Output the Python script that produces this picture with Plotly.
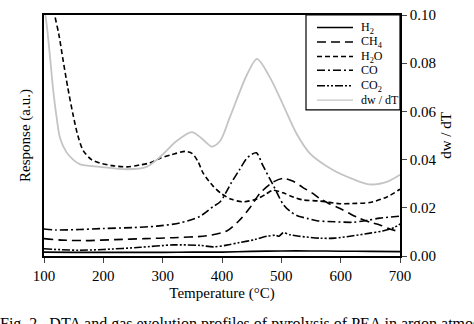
import plotly.graph_objects as go

# ---- data ----
T_h2 = [100, 150, 200, 250, 300, 350, 400, 450, 500, 550, 600, 650, 700]
h2 = [0.0016, 0.0015, 0.0015, 0.0015, 0.0015, 0.0016, 0.0016, 0.0019, 0.0021, 0.0021, 0.0020, 0.0019, 0.0018]

T_ch4 = [100, 130, 170, 220, 270, 318, 374, 408, 430, 447, 464, 485, 503, 520, 536, 553, 565,
         580, 599, 616, 633, 650, 666, 683, 700]
ch4 = [0.0072, 0.0066, 0.0064, 0.0068, 0.0072, 0.0076, 0.0084, 0.0104, 0.0150, 0.0200, 0.0260,
       0.0305, 0.0322, 0.0310, 0.0285, 0.0260, 0.0238, 0.0218, 0.0197, 0.0175, 0.0155, 0.0140,
       0.0129, 0.0112, 0.0100]

T_h2o = [100, 110, 118, 125, 132, 140, 149, 157, 166, 180, 194, 215, 240, 262, 278, 295, 315,
         338, 350, 360, 368, 385, 400, 416, 435, 459, 473, 486, 503, 520, 536, 565, 599, 620,
         649, 678, 700]
h2o = [0.125, 0.112, 0.100, 0.092, 0.0815, 0.070, 0.0586, 0.050, 0.0438, 0.040, 0.0386, 0.0375,
       0.0370, 0.0378, 0.0386, 0.0405, 0.0420, 0.0434, 0.0425, 0.0390, 0.0345, 0.0290, 0.0257,
       0.0235, 0.0225, 0.0237, 0.0255, 0.0273, 0.0262, 0.0245, 0.0233, 0.0228, 0.0217, 0.0218,
       0.0222, 0.0245, 0.0277]

T_co = [100, 120, 160, 200, 250, 290, 329, 363, 385, 397, 416, 430, 442, 450, 458, 469, 486,
        503, 515, 526, 545, 560, 590, 621, 645, 666, 700]
co = [0.0112, 0.0108, 0.0110, 0.0114, 0.0118, 0.0124, 0.0137, 0.0165, 0.0205, 0.0225, 0.0305,
      0.0360, 0.0406, 0.0422, 0.0428, 0.0375, 0.0295, 0.0215, 0.0185, 0.0168, 0.0155, 0.0146,
      0.0142, 0.0140, 0.0148, 0.0157, 0.0165]

T_co2 = [100, 130, 160, 200, 262, 318, 363, 385, 408, 430, 455, 476, 490, 496, 503, 515, 530,
         565, 590, 621, 650, 671, 690, 700]
co2 = [0.0030, 0.0026, 0.0024, 0.0027, 0.0036, 0.0046, 0.0044, 0.0038, 0.0045, 0.0056, 0.0068,
       0.0082, 0.0086, 0.0082, 0.0096, 0.0088, 0.0082, 0.0074, 0.0074, 0.0084, 0.0095, 0.0104,
       0.0118, 0.0133]

T_dw = [100, 105, 110, 115, 121, 127, 138, 149, 161, 194, 240, 273, 295, 324, 349, 365, 383,
        397, 413, 442, 459, 481, 503, 526, 548, 587, 620, 649, 680, 700]
dwdt = [0.104, 0.095, 0.083, 0.070, 0.058, 0.049, 0.043, 0.040, 0.038, 0.037, 0.036, 0.037,
        0.0410, 0.0478, 0.0514, 0.0490, 0.0454, 0.0478, 0.0574, 0.0752, 0.0818, 0.0740, 0.0627,
        0.0506, 0.0426, 0.0357, 0.0320, 0.0297, 0.0310, 0.0337]

x_ticks = [100, 200, 300, 400, 500, 600, 700]
y2_ticks = [0.00, 0.02, 0.04, 0.06, 0.08, 0.10]

series_names = ["H<sub>2</sub>", "CH<sub>4</sub>", "H<sub>2</sub>O", "CO", "CO<sub>2</sub>", "dw / dT"]

caption = "Fig. 2.  DTA and gas evolution profiles of pyrolysis of PEA in argon atmosphere"

FONT = "Liberation Serif"
DASHES = ["solid", "9px,5px", "5px,3px", "8px,3px,2px,3px", "8px,2px,2px,2px,2px,2px"]
GRAY = "#c4c4c4"

# plot-area geometry in pixels (used to place legend/caption in paper units)
W, H = 474, 324
ML, MR, MT, MB = 44, 74, 7, 68
PW, PH = W - ML - MR, H - MT - MB


def px_x(px):
    return (px - ML) / PW


def px_y(py):
    return (H - MB - py) / PH


fig = go.Figure()

data = [(T_h2, h2), (T_ch4, ch4), (T_h2o, h2o), (T_co, co), (T_co2, co2)]
for name, (xs, ys), dash in zip(series_names[:5], data, DASHES):
    fig.add_trace(go.Scatter(x=xs, y=ys, name=name, mode="lines", showlegend=False,
                             line=dict(color="black", width=1.6, dash=dash, shape="spline",
                                       smoothing=0.8),
                             yaxis="y"))

fig.add_trace(go.Scatter(x=T_dw, y=dwdt, name=series_names[5], mode="lines", showlegend=False,
                         line=dict(color=GRAY, width=1.8, shape="spline", smoothing=0.8),
                         yaxis="y2"))

# ---- legend box drawn as layout shapes/annotations ----
shapes = [dict(type="rect", xref="paper", yref="paper",
               x0=px_x(306), x1=px_x(400), y0=px_y(105), y1=px_y(7),
               line=dict(color="black", width=1.2), fillcolor="white", layer="above")]
annotations = []
row_y = [20, 35, 50, 64, 80, 95]
for i, name in enumerate(series_names):
    col = GRAY if i == 5 else "black"
    dash = "solid" if i == 5 else DASHES[i]
    shapes.append(dict(type="line", xref="paper", yref="paper",
                       x0=px_x(317), x1=px_x(353), y0=px_y(row_y[i]), y1=px_y(row_y[i]),
                       line=dict(color=col, width=1.5 if i < 5 else 1.3, dash=dash),
                       layer="above"))
    annotations.append(dict(text=name, xref="paper", yref="paper", x=px_x(359),
                            y=px_y(row_y[i]), xanchor="left", yanchor="middle",
                            showarrow=False,
                            font=dict(family=FONT, size=12, color="black")))

annotations.append(dict(text=caption, xref="paper", yref="paper",
                        x=px_x(-2), y=px_y(315), xanchor="left", yanchor="top",
                        showarrow=False,
                        font=dict(family=FONT, size=16, color="black")))

fig.update_layout(
    width=W, height=H,
    margin=dict(l=ML, r=MR, t=MT, b=MB),
    paper_bgcolor="white", plot_bgcolor="white",
    font=dict(family=FONT, size=15, color="black"),
    showlegend=False,
    xaxis=dict(range=[100, 700], tickvals=x_ticks, ticks="outside", ticklen=5,
               tickwidth=1, showline=True, linecolor="black", linewidth=1.5,
               mirror=True, showgrid=False, zeroline=False,
               title=dict(text="Temperature (°C)", standoff=5,
                          font=dict(family=FONT, size=15)),
               tickfont=dict(family=FONT, size=15)),
    yaxis=dict(range=[0, 0.1], showticklabels=False, ticks="", showline=True,
               linecolor="black", linewidth=1.5, mirror=True, showgrid=False,
               zeroline=False,
               title=dict(text="Response (a.u.)", standoff=8,
                          font=dict(family=FONT, size=15))),
    yaxis2=dict(range=[0, 0.1], overlaying="y", side="right", tickvals=y2_ticks,
                tickformat=".2f", ticks="outside", ticklen=5, tickwidth=1,
                showline=True, linecolor="black", linewidth=1.5, showgrid=False,
                zeroline=False, tickfont=dict(family=FONT, size=15),
                title=dict(text="dw / dT", standoff=5,
                           font=dict(family=FONT, size=15))),
    shapes=shapes,
    annotations=annotations,
)

fig.write_html("out.html")
